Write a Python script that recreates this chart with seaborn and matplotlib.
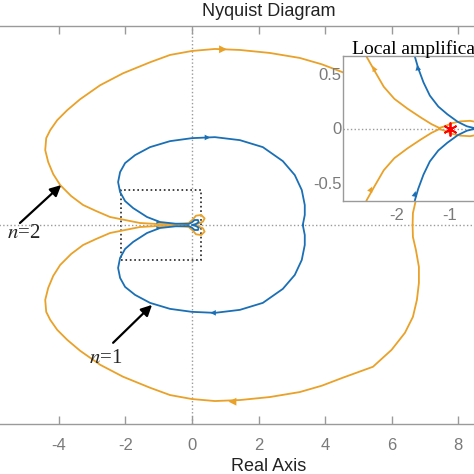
import matplotlib
matplotlib.use('Agg')
import numpy as np
import matplotlib.pyplot as plt
import seaborn as sns
from matplotlib.patches import Rectangle

# ---------------------------
# Data (upper half of each Nyquist curve;
# the lower half is its mirror image about the real axis)
# ---------------------------
orange_x = [0.0, 0.15, 0.33, 0.38, 0.28, 0.12, 0.03, -0.1, -0.5, -1.05, -1.56, -2.01, -2.46,
            -2.88, -3.27, -3.63, -3.96, -4.17, -4.32, -4.41, -4.38, -4.26, -4.05, -3.75,
            -3.36, -2.76, -2.07, -1.26, -0.66, 0.0, 0.69, 1.44, 2.34, 3.24, 3.90, 4.53,
            5.44, 6.0, 6.40, 6.64, 6.76, 6.82, 6.82, 6.73, 6.64, 6.63]
orange_y = [0.0, 0.03, 0.10, 0.20, 0.30, 0.28, 0.17, 0.06, 0.03, 0.03, 0.06, 0.15, 0.24,
            0.42, 0.60, 0.87, 1.20, 1.53, 1.89, 2.25, 2.61, 2.85, 3.15, 3.45,
            3.78, 4.20, 4.56, 4.89, 5.11, 5.23, 5.29, 5.26, 5.17, 5.02, 4.83, 4.59,
            4.26, 3.75, 3.24, 2.76, 2.25, 1.74, 1.26, 0.75, 0.36, 0.0]

blue_x = [0.0, 0.1, 0.2, 0.18, 0.08, 0.0, -0.1, -0.5, -0.96, -1.35, -1.77, -2.01, -2.16,
          -2.22, -2.16, -2.01, -1.71, -1.26, -0.66, 0.0, 0.69, 1.44, 2.13, 2.73, 3.09,
          3.30, 3.39, 3.39, 3.33]
blue_y = [0.0, 0.02, 0.08, 0.15, 0.15, 0.08, 0.03, 0.04, 0.09, 0.24, 0.51, 0.72, 0.99,
          1.29, 1.59, 1.86, 2.10, 2.34, 2.52, 2.61, 2.64, 2.55, 2.34, 1.92, 1.50,
          1.05, 0.60, 0.30, 0.0]

# zoomed view ("Local amplification")
orange_zoom_x = [0.0, -0.2, -0.4, -0.62, -0.8, -0.95, -1.1, -1.2, -1.35, -1.55, -1.8,
                 -2.05, -2.25, -2.43, -2.57, -2.66]
orange_zoom_y = [0.0, 0.02, 0.05, 0.07, 0.065, 0.05, 0.02, 0.005, 0.04, 0.10, 0.18,
                 0.27, 0.38, 0.53, 0.65, 0.75]
blue_zoom_x = [0.0, -0.3, -0.55, -0.68, -0.85, -1.05, -1.22, -1.38, -1.5, -1.6, -1.66, -1.7]
blue_zoom_y = [0.0, 0.0, 0.005, 0.02, 0.06, 0.13, 0.20, 0.30, 0.42, 0.55, 0.65, 0.75]

critical_point = (-1.0, 0.0)
zoom_box_x = (-2.13, 0.27)
zoom_box_y = (-1.04, 1.04)

main_xticks = [-6, -4, -2, 0, 2, 4, 6, 8, 10]
zoom_xticks = [-2, -1]
zoom_yticks = [-0.5, 0, 0.5]

ORANGE = '#E9A128'
BLUE = '#1A6FB5'
GREY = '#9a9a9a'
LABEL_GREY = '#7a7a7a'


def mirror(xu, yu):
    xu = np.asarray(xu)
    yu = np.asarray(yu)
    return np.r_[xu[::-1], xu[1:]], np.r_[-yu[::-1], yu[1:]]


def head(ax, start, tip, color, size):
    ax.annotate('', xy=tip, xytext=start,
                arrowprops=dict(arrowstyle='-|>', color=color, lw=0.01,
                                mutation_scale=size, shrinkA=0, shrinkB=0))


sns.set_style("white")
plt.rcParams['font.family'] = ['Liberation Sans', 'DejaVu Sans']
plt.rcParams['mathtext.fontset'] = 'stix'
plt.rcParams['axes.unicode_minus'] = False
plt.rcParams['lines.solid_joinstyle'] = 'round'

fig = plt.figure(figsize=(4.74, 4.74), dpi=100)

# ---------------------------
# Main Nyquist axes (wider than the canvas, as in the cropped original)
# ---------------------------
ax = fig.add_axes([-20 / 474, 50 / 474, 578 / 474, 398 / 474])
ax.axhline(0, color=GREY, ls=':', lw=1)
ax.axvline(0, color=GREY, ls=':', lw=1)

ox, oy = mirror(orange_x, orange_y)
bx, by = mirror(blue_x, blue_y)
sns.lineplot(x=ox, y=oy, sort=False, estimator=None, color=ORANGE, lw=1.3, ax=ax)
sns.lineplot(x=bx, y=by, sort=False, estimator=None, color=BLUE, lw=1.3, ax=ax)

head(ax, (0.8, 5.28), (1.05, 5.28), ORANGE, 14)
head(ax, (1.35, -5.31), (1.1, -5.31), ORANGE, 14)
head(ax, (0.3, 2.63), (0.55, 2.63), BLUE, 10)
head(ax, (0.8, -2.64), (0.55, -2.64), BLUE, 10)
head(ax, (-1.15, 0.11), (-0.95, 0.08), BLUE, 7)
head(ax, (-1.15, -0.11), (-0.95, -0.08), BLUE, 7)

ax.add_patch(Rectangle((zoom_box_x[0], zoom_box_y[0]), zoom_box_x[1] - zoom_box_x[0],
                       zoom_box_y[1] - zoom_box_y[0], fill=False, ls=':', lw=1.2,
                       color='#222222'))

ax.annotate('', xy=(-3.93, 1.2), xytext=(-5.17, 0.06),
            arrowprops=dict(arrowstyle='-|>', color='black', lw=1.6, mutation_scale=16,
                            shrinkA=0, shrinkB=0))
ax.annotate('', xy=(-1.2, -2.4), xytext=(-2.37, -3.54),
            arrowprops=dict(arrowstyle='-|>', color='black', lw=1.6, mutation_scale=16,
                            shrinkA=0, shrinkB=0))
ax.text(-5.07, -0.27, r'$n$=2', fontsize=15, family='Liberation Serif', ha='center', va='center')
ax.text(-2.58, -4.02, r'$n$=1', fontsize=15, family='Liberation Serif', ha='center', va='center')

ax.set_xlim(-6.37, 11.0)
ax.set_ylim(-5.98, 5.98)
ax.set_xticks(main_xticks)
ax.set_yticks([])
ax.tick_params(axis='x', which='both', direction='in', length=6, width=1, color=GREY,
               labelcolor=LABEL_GREY, labelsize=12, pad=10, top=True, bottom=True)
for s in ax.spines.values():
    s.set_color(GREY)
    s.set_linewidth(1)
ax.set_xlabel('Real Axis', fontsize=13, color='#222222', labelpad=4)
ax.set_ylabel('')
ax.set_title('Nyquist Diagram', fontsize=13, color='#222222', pad=7)

# ---------------------------
# Inset: local amplification near (-1, 0)
# ---------------------------
axi = fig.add_axes([343 / 474, 273 / 474, 171 / 474, 145 / 474])
axi.set_facecolor('white')
axi.axhline(0, color=GREY, ls=':', lw=1)

ozx, ozy = mirror(orange_zoom_x, orange_zoom_y)
bzx, bzy = mirror(blue_zoom_x, blue_zoom_y)
sns.lineplot(x=ozx, y=ozy, sort=False, estimator=None, color=ORANGE, lw=1.3, ax=axi)
sns.lineplot(x=bzx, y=bzy, sort=False, estimator=None, color=BLUE, lw=1.3, ax=axi)
axi.plot([critical_point[0]], [critical_point[1]], marker=(6, 2, 0), ms=10, mew=1.3,
         color='red', ls='none')

head(axi, (-2.40, 0.51), (-2.46, 0.57), ORANGE, 10)
head(axi, (-2.53, -0.59), (-2.47, -0.53), ORANGE, 10)
head(axi, (-1.59, 0.51), (-1.62, 0.58), BLUE, 10)
head(axi, (-1.68, -0.64), (-1.65, -0.57), BLUE, 10)

axi.set_xlim(-3.02, 0.21)
axi.set_ylim(-0.66, 0.66)
axi.set_xticks(zoom_xticks)
axi.set_yticks(zoom_yticks)
axi.set_yticklabels(['-0.5', '0', '0.5'])
axi.tick_params(which='both', direction='in', length=4, width=1, color=GREY,
                labelcolor=LABEL_GREY, labelsize=12)
axi.tick_params(axis='y', pad=1)
axi.tick_params(axis='x', pad=5)
for s in axi.spines.values():
    s.set_color(GREY)
    s.set_linewidth(1)
axi.set_xlabel('')
axi.set_ylabel('')
axi.set_title('Local amplification', fontsize=14, family='Liberation Serif',
              color='black', pad=1.5)

fig.savefig('out.png', dpi=100)
plt.close(fig)
